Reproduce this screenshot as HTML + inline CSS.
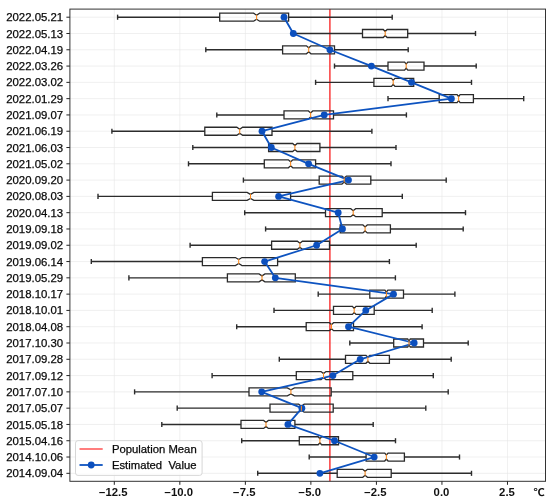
<!DOCTYPE html>
<html lang="en"><head><meta charset="utf-8"><title>Boxplot</title>
<style>
html,body{margin:0;padding:0;background:#fff;}
body{width:550px;height:501px;overflow:hidden;}
svg{display:block;}
.yl{font-family:"Liberation Sans",sans-serif;font-size:11.4px;fill:#0a0a0a;stroke:#0a0a0a;stroke-width:0.25px;}
.xl{font-family:"Liberation Sans","Noto Sans CJK SC",sans-serif;font-weight:700;font-size:10.3px;fill:#111;}
.lg{font-family:"Liberation Sans",sans-serif;font-size:11.3px;fill:#0a0a0a;stroke:#0a0a0a;stroke-width:0.25px;white-space:pre;}
.grid line{stroke:#e6e6e6;stroke-width:0.6;}
.wh line{stroke:#2c2c2c;stroke-width:1.4;}
.bx path{stroke:#2a2a2a;stroke-width:1.3;fill:none;stroke-linejoin:miter;}
.md line{stroke:#ff8a1a;stroke-width:1.05;}
.tk line{stroke:#222;stroke-width:1;}
</style></head><body>
<svg width="550" height="501" viewBox="0 0 550 501">
<rect x="0" y="0" width="550" height="501" fill="#ffffff"/>
<g class="grid">
<line x1="114.3" y1="9.1" x2="114.3" y2="481.3"/>
<line x1="179.83" y1="9.1" x2="179.83" y2="481.3"/>
<line x1="245.36" y1="9.1" x2="245.36" y2="481.3"/>
<line x1="310.89" y1="9.1" x2="310.89" y2="481.3"/>
<line x1="376.42" y1="9.1" x2="376.42" y2="481.3"/>
<line x1="441.95" y1="9.1" x2="441.95" y2="481.3"/>
<line x1="507.48" y1="9.1" x2="507.48" y2="481.3"/>
<line x1="69.9" y1="17.2" x2="545.5" y2="17.2"/>
<line x1="69.9" y1="33.49" x2="545.5" y2="33.49"/>
<line x1="69.9" y1="49.78" x2="545.5" y2="49.78"/>
<line x1="69.9" y1="66.07" x2="545.5" y2="66.07"/>
<line x1="69.9" y1="82.36" x2="545.5" y2="82.36"/>
<line x1="69.9" y1="98.65" x2="545.5" y2="98.65"/>
<line x1="69.9" y1="114.94" x2="545.5" y2="114.94"/>
<line x1="69.9" y1="131.23" x2="545.5" y2="131.23"/>
<line x1="69.9" y1="147.52" x2="545.5" y2="147.52"/>
<line x1="69.9" y1="163.81" x2="545.5" y2="163.81"/>
<line x1="69.9" y1="180.1" x2="545.5" y2="180.1"/>
<line x1="69.9" y1="196.39" x2="545.5" y2="196.39"/>
<line x1="69.9" y1="212.68" x2="545.5" y2="212.68"/>
<line x1="69.9" y1="228.97" x2="545.5" y2="228.97"/>
<line x1="69.9" y1="245.26" x2="545.5" y2="245.26"/>
<line x1="69.9" y1="261.55" x2="545.5" y2="261.55"/>
<line x1="69.9" y1="277.84" x2="545.5" y2="277.84"/>
<line x1="69.9" y1="294.13" x2="545.5" y2="294.13"/>
<line x1="69.9" y1="310.42" x2="545.5" y2="310.42"/>
<line x1="69.9" y1="326.71" x2="545.5" y2="326.71"/>
<line x1="69.9" y1="343" x2="545.5" y2="343"/>
<line x1="69.9" y1="359.29" x2="545.5" y2="359.29"/>
<line x1="69.9" y1="375.58" x2="545.5" y2="375.58"/>
<line x1="69.9" y1="391.87" x2="545.5" y2="391.87"/>
<line x1="69.9" y1="408.16" x2="545.5" y2="408.16"/>
<line x1="69.9" y1="424.45" x2="545.5" y2="424.45"/>
<line x1="69.9" y1="440.74" x2="545.5" y2="440.74"/>
<line x1="69.9" y1="457.03" x2="545.5" y2="457.03"/>
<line x1="69.9" y1="473.32" x2="545.5" y2="473.32"/>
</g>
<line x1="329.9" y1="9.1" x2="329.9" y2="481.3" stroke="#f93535" stroke-width="1.45"/>
<g class="wh">
<line x1="117.6" y1="17.2" x2="219.7" y2="17.2"/>
<line x1="288.6" y1="17.2" x2="392.2" y2="17.2"/>
<line x1="117.6" y1="14.65" x2="117.6" y2="19.75"/>
<line x1="392.2" y1="14.65" x2="392.2" y2="19.75"/>
<line x1="293" y1="33.49" x2="362.5" y2="33.49"/>
<line x1="407.7" y1="33.49" x2="475.5" y2="33.49"/>
<line x1="293" y1="30.94" x2="293" y2="36.04"/>
<line x1="475.5" y1="30.94" x2="475.5" y2="36.04"/>
<line x1="205.8" y1="49.78" x2="282.6" y2="49.78"/>
<line x1="334.5" y1="49.78" x2="408.2" y2="49.78"/>
<line x1="205.8" y1="47.23" x2="205.8" y2="52.33"/>
<line x1="408.2" y1="47.23" x2="408.2" y2="52.33"/>
<line x1="334.5" y1="66.07" x2="388" y2="66.07"/>
<line x1="424" y1="66.07" x2="476.2" y2="66.07"/>
<line x1="334.5" y1="63.52" x2="334.5" y2="68.62"/>
<line x1="476.2" y1="63.52" x2="476.2" y2="68.62"/>
<line x1="315.6" y1="82.36" x2="373.9" y2="82.36"/>
<line x1="413.7" y1="82.36" x2="471.5" y2="82.36"/>
<line x1="315.6" y1="79.81" x2="315.6" y2="84.91"/>
<line x1="471.5" y1="79.81" x2="471.5" y2="84.91"/>
<line x1="388" y1="98.65" x2="439.2" y2="98.65"/>
<line x1="473.4" y1="98.65" x2="523.7" y2="98.65"/>
<line x1="388" y1="96.1" x2="388" y2="101.2"/>
<line x1="523.7" y1="96.1" x2="523.7" y2="101.2"/>
<line x1="216.8" y1="114.94" x2="284" y2="114.94"/>
<line x1="333.5" y1="114.94" x2="406.4" y2="114.94"/>
<line x1="216.8" y1="112.39" x2="216.8" y2="117.49"/>
<line x1="406.4" y1="112.39" x2="406.4" y2="117.49"/>
<line x1="111.9" y1="131.23" x2="204.8" y2="131.23"/>
<line x1="272" y1="131.23" x2="371.9" y2="131.23"/>
<line x1="111.9" y1="128.68" x2="111.9" y2="133.78"/>
<line x1="371.9" y1="128.68" x2="371.9" y2="133.78"/>
<line x1="192.8" y1="147.52" x2="268.6" y2="147.52"/>
<line x1="319.9" y1="147.52" x2="396" y2="147.52"/>
<line x1="192.8" y1="144.97" x2="192.8" y2="150.07"/>
<line x1="396" y1="144.97" x2="396" y2="150.07"/>
<line x1="188.5" y1="163.81" x2="264.3" y2="163.81"/>
<line x1="315.6" y1="163.81" x2="391" y2="163.81"/>
<line x1="188.5" y1="161.26" x2="188.5" y2="166.36"/>
<line x1="391" y1="161.26" x2="391" y2="166.36"/>
<line x1="243.4" y1="180.1" x2="319.2" y2="180.1"/>
<line x1="370.8" y1="180.1" x2="446.2" y2="180.1"/>
<line x1="243.4" y1="177.55" x2="243.4" y2="182.65"/>
<line x1="446.2" y1="177.55" x2="446.2" y2="182.65"/>
<line x1="98" y1="196.39" x2="212.4" y2="196.39"/>
<line x1="290.6" y1="196.39" x2="402.3" y2="196.39"/>
<line x1="98" y1="193.84" x2="98" y2="198.94"/>
<line x1="402.3" y1="193.84" x2="402.3" y2="198.94"/>
<line x1="244.7" y1="212.68" x2="325.5" y2="212.68"/>
<line x1="382.2" y1="212.68" x2="465.5" y2="212.68"/>
<line x1="244.7" y1="210.13" x2="244.7" y2="215.23"/>
<line x1="465.5" y1="210.13" x2="465.5" y2="215.23"/>
<line x1="265.6" y1="228.97" x2="340.2" y2="228.97"/>
<line x1="390.4" y1="228.97" x2="463.2" y2="228.97"/>
<line x1="265.6" y1="226.42" x2="265.6" y2="231.52"/>
<line x1="463.2" y1="226.42" x2="463.2" y2="231.52"/>
<line x1="190.1" y1="245.26" x2="271.6" y2="245.26"/>
<line x1="329.5" y1="245.26" x2="416.2" y2="245.26"/>
<line x1="190.1" y1="242.71" x2="190.1" y2="247.81"/>
<line x1="416.2" y1="242.71" x2="416.2" y2="247.81"/>
<line x1="91.3" y1="261.55" x2="202.4" y2="261.55"/>
<line x1="277.6" y1="261.55" x2="389.4" y2="261.55"/>
<line x1="91.3" y1="259" x2="91.3" y2="264.1"/>
<line x1="389.4" y1="259" x2="389.4" y2="264.1"/>
<line x1="128.9" y1="277.84" x2="227.4" y2="277.84"/>
<line x1="295.3" y1="277.84" x2="395.4" y2="277.84"/>
<line x1="128.9" y1="275.29" x2="128.9" y2="280.39"/>
<line x1="395.4" y1="275.29" x2="395.4" y2="280.39"/>
<line x1="318.2" y1="294.13" x2="369.8" y2="294.13"/>
<line x1="403.5" y1="294.13" x2="454.9" y2="294.13"/>
<line x1="318.2" y1="291.58" x2="318.2" y2="296.68"/>
<line x1="454.9" y1="291.58" x2="454.9" y2="296.68"/>
<line x1="274" y1="310.42" x2="333.5" y2="310.42"/>
<line x1="374.2" y1="310.42" x2="432.2" y2="310.42"/>
<line x1="274" y1="307.87" x2="274" y2="312.97"/>
<line x1="432.2" y1="307.87" x2="432.2" y2="312.97"/>
<line x1="236.7" y1="326.71" x2="306.2" y2="326.71"/>
<line x1="353.5" y1="326.71" x2="422.1" y2="326.71"/>
<line x1="236.7" y1="324.16" x2="236.7" y2="329.26"/>
<line x1="422.1" y1="324.16" x2="422.1" y2="329.26"/>
<line x1="349.8" y1="343" x2="393.7" y2="343"/>
<line x1="423.5" y1="343" x2="468.2" y2="343"/>
<line x1="349.8" y1="340.45" x2="349.8" y2="345.55"/>
<line x1="468.2" y1="340.45" x2="468.2" y2="345.55"/>
<line x1="279.3" y1="359.29" x2="345.5" y2="359.29"/>
<line x1="389.4" y1="359.29" x2="451.2" y2="359.29"/>
<line x1="279.3" y1="356.74" x2="279.3" y2="361.84"/>
<line x1="451.2" y1="356.74" x2="451.2" y2="361.84"/>
<line x1="212.1" y1="375.58" x2="296.3" y2="375.58"/>
<line x1="352.8" y1="375.58" x2="433.3" y2="375.58"/>
<line x1="212.1" y1="373.03" x2="212.1" y2="378.13"/>
<line x1="433.3" y1="373.03" x2="433.3" y2="378.13"/>
<line x1="134.6" y1="391.87" x2="249" y2="391.87"/>
<line x1="331.2" y1="391.87" x2="448.2" y2="391.87"/>
<line x1="134.6" y1="389.32" x2="134.6" y2="394.42"/>
<line x1="448.2" y1="389.32" x2="448.2" y2="394.42"/>
<line x1="177.2" y1="408.16" x2="270" y2="408.16"/>
<line x1="333.2" y1="408.16" x2="425.8" y2="408.16"/>
<line x1="177.2" y1="405.61" x2="177.2" y2="410.71"/>
<line x1="425.8" y1="405.61" x2="425.8" y2="410.71"/>
<line x1="161.8" y1="424.45" x2="241" y2="424.45"/>
<line x1="294.9" y1="424.45" x2="373.2" y2="424.45"/>
<line x1="161.8" y1="421.9" x2="161.8" y2="427"/>
<line x1="373.2" y1="421.9" x2="373.2" y2="427"/>
<line x1="241.7" y1="440.74" x2="299.3" y2="440.74"/>
<line x1="338.5" y1="440.74" x2="395.5" y2="440.74"/>
<line x1="241.7" y1="438.19" x2="241.7" y2="443.29"/>
<line x1="395.5" y1="438.19" x2="395.5" y2="443.29"/>
<line x1="309.2" y1="457.03" x2="366.1" y2="457.03"/>
<line x1="404.4" y1="457.03" x2="459.5" y2="457.03"/>
<line x1="309.2" y1="454.48" x2="309.2" y2="459.58"/>
<line x1="459.5" y1="454.48" x2="459.5" y2="459.58"/>
<line x1="257.7" y1="473.32" x2="337.2" y2="473.32"/>
<line x1="391.2" y1="473.32" x2="471.5" y2="473.32"/>
<line x1="257.7" y1="470.77" x2="257.7" y2="475.87"/>
<line x1="471.5" y1="470.77" x2="471.5" y2="475.87"/>
</g>
<g class="bx">
<path d="M219.7 13.2 L253.6 13.2 L256.6 15.2 L259.6 13.2 L288.6 13.2 L288.6 21.2 L259.6 21.2 L256.6 19.2 L253.6 21.2 L219.7 21.2 Z"/>
<path d="M362.5 29.49 L383.23 29.49 L385.2 31.49 L387.17 29.49 L407.7 29.49 L407.7 37.49 L387.17 37.49 L385.2 35.49 L383.23 37.49 L362.5 37.49 Z"/>
<path d="M282.6 45.78 L306.44 45.78 L308.7 47.78 L310.96 45.78 L334.5 45.78 L334.5 53.78 L310.96 53.78 L308.7 51.78 L306.44 53.78 L282.6 53.78 Z"/>
<path d="M388 62.07 L404.63 62.07 L406.2 64.07 L407.77 62.07 L424 62.07 L424 70.07 L407.77 70.07 L406.2 68.07 L404.63 70.07 L388 70.07 Z"/>
<path d="M373.9 78.36 L391.47 78.36 L393.2 80.36 L394.93 78.36 L413.7 78.36 L413.7 86.36 L394.93 86.36 L393.2 84.36 L391.47 86.36 L373.9 86.36 Z"/>
<path d="M439.2 94.65 L457.11 94.65 L458.6 96.65 L460.09 94.65 L473.4 94.65 L473.4 102.65 L460.09 102.65 L458.6 100.65 L457.11 102.65 L439.2 102.65 Z"/>
<path d="M284 110.94 L308.45 110.94 L310.6 112.94 L312.75 110.94 L333.5 110.94 L333.5 118.94 L312.75 118.94 L310.6 116.94 L308.45 118.94 L284 118.94 Z"/>
<path d="M204.8 127.23 L236.78 127.23 L239.7 129.23 L242.62 127.23 L272 127.23 L272 135.23 L242.62 135.23 L239.7 133.23 L236.78 135.23 L204.8 135.23 Z"/>
<path d="M268.6 143.52 L292.67 143.52 L294.9 145.52 L297.13 143.52 L319.9 143.52 L319.9 151.52 L297.13 151.52 L294.9 149.52 L292.67 151.52 L268.6 151.52 Z"/>
<path d="M264.3 159.81 L288.37 159.81 L290.6 161.81 L292.83 159.81 L315.6 159.81 L315.6 167.81 L292.83 167.81 L290.6 165.81 L288.37 167.81 L264.3 167.81 Z"/>
<path d="M319.2 176.1 L341.96 176.1 L344.2 178.1 L346.44 176.1 L370.8 176.1 L370.8 184.1 L346.44 184.1 L344.2 182.1 L341.96 184.1 L319.2 184.1 Z"/>
<path d="M212.4 192.39 L247.1 192.39 L250.5 194.39 L253.9 192.39 L290.6 192.39 L290.6 200.39 L253.9 200.39 L250.5 198.39 L247.1 200.39 L212.4 200.39 Z"/>
<path d="M325.5 208.68 L350.73 208.68 L353.2 210.68 L355.67 208.68 L382.2 208.68 L382.2 216.68 L355.67 216.68 L353.2 214.68 L350.73 216.68 L325.5 216.68 Z"/>
<path d="M340.2 224.97 L362.92 224.97 L365.1 226.97 L367.28 224.97 L390.4 224.97 L390.4 232.97 L367.28 232.97 L365.1 230.97 L362.92 232.97 L340.2 232.97 Z"/>
<path d="M271.6 241.26 L297.38 241.26 L299.9 243.26 L302.42 241.26 L329.5 241.26 L329.5 249.26 L302.42 249.26 L299.9 247.26 L297.38 249.26 L271.6 249.26 Z"/>
<path d="M202.4 257.55 L235.43 257.55 L238.7 259.55 L241.97 257.55 L277.6 257.55 L277.6 265.55 L241.97 265.55 L238.7 263.55 L235.43 265.55 L202.4 265.55 Z"/>
<path d="M227.4 273.84 L259.05 273.84 L262 275.84 L264.95 273.84 L295.3 273.84 L295.3 281.84 L264.95 281.84 L262 279.84 L259.05 281.84 L227.4 281.84 Z"/>
<path d="M369.8 290.13 L384.93 290.13 L386.4 292.13 L387.87 290.13 L403.5 290.13 L403.5 298.13 L387.87 298.13 L386.4 296.13 L384.93 298.13 L369.8 298.13 Z"/>
<path d="M333.5 306.42 L352.43 306.42 L354.2 308.42 L355.97 306.42 L374.2 306.42 L374.2 314.42 L355.97 314.42 L354.2 312.42 L352.43 314.42 L333.5 314.42 Z"/>
<path d="M306.2 322.71 L329.44 322.71 L331.5 324.71 L333.56 322.71 L353.5 322.71 L353.5 330.71 L333.56 330.71 L331.5 328.71 L329.44 330.71 L306.2 330.71 Z"/>
<path d="M393.7 339 L407.7 339 L409 341 L410.3 339 L423.5 339 L423.5 347 L410.3 347 L409 345 L407.7 347 L393.7 347 Z"/>
<path d="M345.5 355.29 L365.99 355.29 L367.9 357.29 L369.81 355.29 L389.4 355.29 L389.4 363.29 L369.81 363.29 L367.9 361.29 L365.99 363.29 L345.5 363.29 Z"/>
<path d="M296.3 371.58 L321.04 371.58 L323.5 373.58 L325.96 371.58 L352.8 371.58 L352.8 379.58 L325.96 379.58 L323.5 377.58 L321.04 379.58 L296.3 379.58 Z"/>
<path d="M249 387.87 L287.32 387.87 L290.9 389.87 L294.48 387.87 L331.2 387.87 L331.2 395.87 L294.48 395.87 L290.9 393.87 L287.32 395.87 L249 395.87 Z"/>
<path d="M270 404.16 L298.65 404.16 L301.4 406.16 L304.15 404.16 L333.2 404.16 L333.2 412.16 L304.15 412.16 L301.4 410.16 L298.65 412.16 L270 412.16 Z"/>
<path d="M241 420.45 L263.66 420.45 L266 422.45 L268.34 420.45 L294.9 420.45 L294.9 428.45 L268.34 428.45 L266 426.45 L263.66 428.45 L241 428.45 Z"/>
<path d="M299.3 436.74 L318.19 436.74 L319.9 438.74 L321.61 436.74 L338.5 436.74 L338.5 444.74 L321.61 444.74 L319.9 442.74 L318.19 444.74 L299.3 444.74 Z"/>
<path d="M366.1 453.03 L384.73 453.03 L386.4 455.03 L388.07 453.03 L404.4 453.03 L404.4 461.03 L388.07 461.03 L386.4 459.03 L384.73 461.03 L366.1 461.03 Z"/>
<path d="M337.2 469.32 L362.75 469.32 L365.1 471.32 L367.45 469.32 L391.2 469.32 L391.2 477.32 L367.45 477.32 L365.1 475.32 L362.75 477.32 L337.2 477.32 Z"/>
</g>
<polyline points="284,17.2 293.3,33.49 329.9,49.78 371.4,66.07 411.5,82.36 451.4,98.65 324.2,114.94 262,131.23 271.3,147.52 308.6,163.81 348.5,180.1 278.6,196.39 338.2,212.68 342.5,228.97 316.6,245.26 264.6,261.55 275.3,277.84 393.5,294.13 365.8,310.42 348.5,326.71 414.2,343 360.2,359.29 332.9,375.58 261.7,391.87 301.9,408.16 287.9,424.45 334.5,440.74 374.2,457.03 319.9,473.32" fill="none" stroke="#0d53c0" stroke-width="1.8" stroke-linejoin="round"/>
<g fill="#0b4fbe">
<circle cx="284" cy="17.2" r="3.4"/>
<circle cx="293.3" cy="33.49" r="3.4"/>
<circle cx="329.9" cy="49.78" r="3.4"/>
<circle cx="371.4" cy="66.07" r="3.4"/>
<circle cx="411.5" cy="82.36" r="3.4"/>
<circle cx="451.4" cy="98.65" r="3.4"/>
<circle cx="324.2" cy="114.94" r="3.4"/>
<circle cx="262" cy="131.23" r="3.4"/>
<circle cx="271.3" cy="147.52" r="3.4"/>
<circle cx="308.6" cy="163.81" r="3.4"/>
<circle cx="348.5" cy="180.1" r="3.4"/>
<circle cx="278.6" cy="196.39" r="3.4"/>
<circle cx="338.2" cy="212.68" r="3.4"/>
<circle cx="342.5" cy="228.97" r="3.4"/>
<circle cx="316.6" cy="245.26" r="3.4"/>
<circle cx="264.6" cy="261.55" r="3.4"/>
<circle cx="275.3" cy="277.84" r="3.4"/>
<circle cx="393.5" cy="294.13" r="3.4"/>
<circle cx="365.8" cy="310.42" r="3.4"/>
<circle cx="348.5" cy="326.71" r="3.4"/>
<circle cx="414.2" cy="343" r="3.4"/>
<circle cx="360.2" cy="359.29" r="3.4"/>
<circle cx="332.9" cy="375.58" r="3.4"/>
<circle cx="261.7" cy="391.87" r="3.4"/>
<circle cx="301.9" cy="408.16" r="3.4"/>
<circle cx="287.9" cy="424.45" r="3.4"/>
<circle cx="334.5" cy="440.74" r="3.4"/>
<circle cx="374.2" cy="457.03" r="3.4"/>
<circle cx="319.9" cy="473.32" r="3.4"/>
</g>
<g class="md">
<line x1="256.6" y1="14.7" x2="256.6" y2="19.7"/>
<line x1="385.2" y1="30.99" x2="385.2" y2="35.99"/>
<line x1="308.7" y1="47.28" x2="308.7" y2="52.28"/>
<line x1="406.2" y1="63.57" x2="406.2" y2="68.57"/>
<line x1="393.2" y1="79.86" x2="393.2" y2="84.86"/>
<line x1="458.6" y1="96.15" x2="458.6" y2="101.15"/>
<line x1="310.6" y1="112.44" x2="310.6" y2="117.44"/>
<line x1="239.7" y1="128.73" x2="239.7" y2="133.73"/>
<line x1="294.9" y1="145.02" x2="294.9" y2="150.02"/>
<line x1="290.6" y1="161.31" x2="290.6" y2="166.31"/>
<line x1="344.2" y1="177.6" x2="344.2" y2="182.6"/>
<line x1="250.5" y1="193.89" x2="250.5" y2="198.89"/>
<line x1="353.2" y1="210.18" x2="353.2" y2="215.18"/>
<line x1="365.1" y1="226.47" x2="365.1" y2="231.47"/>
<line x1="299.9" y1="242.76" x2="299.9" y2="247.76"/>
<line x1="238.7" y1="259.05" x2="238.7" y2="264.05"/>
<line x1="262" y1="275.34" x2="262" y2="280.34"/>
<line x1="386.4" y1="291.63" x2="386.4" y2="296.63"/>
<line x1="354.2" y1="307.92" x2="354.2" y2="312.92"/>
<line x1="331.5" y1="324.21" x2="331.5" y2="329.21"/>
<line x1="409" y1="340.5" x2="409" y2="345.5"/>
<line x1="367.9" y1="356.79" x2="367.9" y2="361.79"/>
<line x1="323.5" y1="373.08" x2="323.5" y2="378.08"/>
<line x1="290.9" y1="389.37" x2="290.9" y2="394.37"/>
<line x1="301.4" y1="405.66" x2="301.4" y2="410.66"/>
<line x1="266" y1="421.95" x2="266" y2="426.95"/>
<line x1="319.9" y1="438.24" x2="319.9" y2="443.24"/>
<line x1="386.4" y1="454.53" x2="386.4" y2="459.53"/>
<line x1="365.1" y1="470.82" x2="365.1" y2="475.82"/>
</g>
<rect x="69.9" y="9.1" width="475.6" height="472.2" fill="none" stroke="#333" stroke-width="1"/>
<g class="tk">
<line x1="66.4" y1="17.2" x2="69.9" y2="17.2"/>
<line x1="66.4" y1="33.49" x2="69.9" y2="33.49"/>
<line x1="66.4" y1="49.78" x2="69.9" y2="49.78"/>
<line x1="66.4" y1="66.07" x2="69.9" y2="66.07"/>
<line x1="66.4" y1="82.36" x2="69.9" y2="82.36"/>
<line x1="66.4" y1="98.65" x2="69.9" y2="98.65"/>
<line x1="66.4" y1="114.94" x2="69.9" y2="114.94"/>
<line x1="66.4" y1="131.23" x2="69.9" y2="131.23"/>
<line x1="66.4" y1="147.52" x2="69.9" y2="147.52"/>
<line x1="66.4" y1="163.81" x2="69.9" y2="163.81"/>
<line x1="66.4" y1="180.1" x2="69.9" y2="180.1"/>
<line x1="66.4" y1="196.39" x2="69.9" y2="196.39"/>
<line x1="66.4" y1="212.68" x2="69.9" y2="212.68"/>
<line x1="66.4" y1="228.97" x2="69.9" y2="228.97"/>
<line x1="66.4" y1="245.26" x2="69.9" y2="245.26"/>
<line x1="66.4" y1="261.55" x2="69.9" y2="261.55"/>
<line x1="66.4" y1="277.84" x2="69.9" y2="277.84"/>
<line x1="66.4" y1="294.13" x2="69.9" y2="294.13"/>
<line x1="66.4" y1="310.42" x2="69.9" y2="310.42"/>
<line x1="66.4" y1="326.71" x2="69.9" y2="326.71"/>
<line x1="66.4" y1="343" x2="69.9" y2="343"/>
<line x1="66.4" y1="359.29" x2="69.9" y2="359.29"/>
<line x1="66.4" y1="375.58" x2="69.9" y2="375.58"/>
<line x1="66.4" y1="391.87" x2="69.9" y2="391.87"/>
<line x1="66.4" y1="408.16" x2="69.9" y2="408.16"/>
<line x1="66.4" y1="424.45" x2="69.9" y2="424.45"/>
<line x1="66.4" y1="440.74" x2="69.9" y2="440.74"/>
<line x1="66.4" y1="457.03" x2="69.9" y2="457.03"/>
<line x1="66.4" y1="473.32" x2="69.9" y2="473.32"/>
<line x1="114.3" y1="481.3" x2="114.3" y2="484.8"/>
<line x1="179.83" y1="481.3" x2="179.83" y2="484.8"/>
<line x1="245.36" y1="481.3" x2="245.36" y2="484.8"/>
<line x1="310.89" y1="481.3" x2="310.89" y2="484.8"/>
<line x1="376.42" y1="481.3" x2="376.42" y2="484.8"/>
<line x1="441.95" y1="481.3" x2="441.95" y2="484.8"/>
<line x1="507.48" y1="481.3" x2="507.48" y2="484.8"/>
</g>
<g class="yl" text-anchor="end">
<text x="63.2" y="21.25">2022.05.21</text>
<text x="63.2" y="37.54">2022.05.13</text>
<text x="63.2" y="53.83">2022.04.19</text>
<text x="63.2" y="70.12">2022.03.26</text>
<text x="63.2" y="86.41">2022.03.02</text>
<text x="63.2" y="102.7">2022.01.29</text>
<text x="63.2" y="118.99">2021.09.07</text>
<text x="63.2" y="135.28">2021.06.19</text>
<text x="63.2" y="151.57">2021.06.03</text>
<text x="63.2" y="167.86">2021.05.02</text>
<text x="63.2" y="184.15">2020.09.20</text>
<text x="63.2" y="200.44">2020.08.03</text>
<text x="63.2" y="216.73">2020.04.13</text>
<text x="63.2" y="233.02">2019.09.18</text>
<text x="63.2" y="249.31">2019.09.02</text>
<text x="63.2" y="265.6">2019.06.14</text>
<text x="63.2" y="281.89">2019.05.29</text>
<text x="63.2" y="298.18">2018.10.17</text>
<text x="63.2" y="314.47">2018.10.01</text>
<text x="63.2" y="330.76">2018.04.08</text>
<text x="63.2" y="347.05">2017.10.30</text>
<text x="63.2" y="363.34">2017.09.28</text>
<text x="63.2" y="379.63">2017.09.12</text>
<text x="63.2" y="395.92">2017.07.10</text>
<text x="63.2" y="412.21">2017.05.07</text>
<text x="63.2" y="428.5">2015.05.18</text>
<text x="63.2" y="444.79">2015.04.16</text>
<text x="63.2" y="461.08">2014.10.06</text>
<text x="63.2" y="477.37">2014.09.04</text>
</g>
<g class="xl" text-anchor="middle">
<text transform="translate(113.2 495.8) scale(1.10 1)">−12.5</text>
<text transform="translate(178.73 495.8) scale(1.10 1)">−10.0</text>
<text transform="translate(244.26 495.8) scale(1.10 1)">−7.5</text>
<text transform="translate(309.79 495.8) scale(1.10 1)">−5.0</text>
<text transform="translate(375.32 495.8) scale(1.10 1)">−2.5</text>
<text transform="translate(441.45 495.8) scale(1.10 1)">0.0</text>
<text transform="translate(506.98 495.8) scale(1.10 1)">2.5</text>
<text transform="translate(539.2 495.8) scale(1.10 1)">℃</text>
</g>
<rect x="75.5" y="440.6" width="126.6" height="34.8" rx="2.5" ry="2.5" fill="#ffffff" fill-opacity="0.8" stroke="#d2d2d2" stroke-width="0.9"/>
<line x1="79.5" y1="449" x2="102.7" y2="449" stroke="#ff5c5c" stroke-width="1.6"/>
<line x1="79.5" y1="465" x2="102.7" y2="465" stroke="#0d53c0" stroke-width="1.8"/>
<circle cx="91.2" cy="465" r="3.4" fill="#0b4fbe"/>
<text class="lg" x="111.9" y="453.2">Population Mean</text>
<text class="lg" x="111.9" y="469.2">Estimated  Value</text>
</svg></body></html>
